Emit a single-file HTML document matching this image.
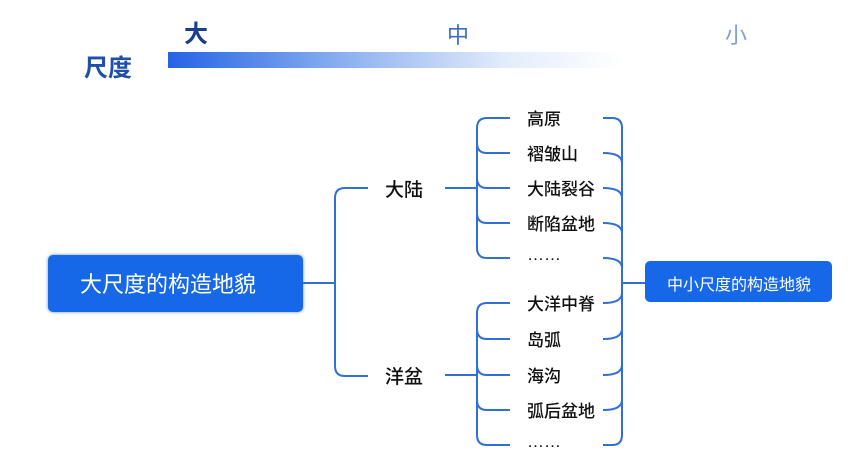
<!DOCTYPE html>
<html><head><meta charset="utf-8"><style>
body{margin:0;width:855px;height:475px;background:#fff;overflow:hidden;font-family:"Liberation Sans","Noto Sans CJK SC",sans-serif;position:relative}
.t{position:absolute;white-space:nowrap}
</style></head><body>
<div class="t" style="left:184px;top:14px;font-size:24px;font-weight:bold;color:#1a3d8f">大</div>
<div class="t" style="left:447px;top:18px;font-size:22px;color:#3b6cc9">中</div>
<div class="t" style="left:725px;top:18px;font-size:22px;color:#7f9fd6">小</div>
<div class="t" style="left:84px;top:48px;font-size:24px;font-weight:bold;color:#1f4fa8">尺度</div>
<div style="position:absolute;left:168px;top:52px;width:455px;height:16px;background:linear-gradient(90deg,#2563e6,#8fb3f0 40%,#e4edfb 75%,#fff)"></div>
<div style="position:absolute;left:48px;top:255px;width:255px;height:57px;background:#1768e8;border-radius:5px;box-shadow:0 0 3px #5b8fe8"></div>
<div class="t" style="left:80px;top:267px;font-size:22px;color:#fff">大尺度的构造地貌</div>
<div style="position:absolute;left:645px;top:261px;width:187px;height:41px;background:#1768e8;border-radius:5px"></div>
<div class="t" style="left:667px;top:271px;font-size:16px;color:#fff">中小尺度的构造地貌</div>
<svg width="855" height="475" style="position:absolute;left:0;top:0" fill="none" stroke="#2f6fd6" stroke-width="2">
<path d="M303 283H335M368 188H345Q335 188 335 198V366Q335 376 345 376H368"/>
<path d="M445 188H477M445 375H477"/>
<path d="M510 118H487Q477 118 477 128V248Q477 258 487 258H510M477 143Q477 153 487 153H510M477 178Q477 188 487 188H510M477 213Q477 223 487 223H510"/>
<path d="M510 303H487Q477 303 477 313V435Q477 445 487 445H510M477 329Q477 339 487 339H510M477 365Q477 375 487 375H510M477 400Q477 410 487 410H510"/>
<path d="M603 118H612Q622 118 622 128V435Q622 445 612 445H603M603 153Q622 153 622 163M603 188Q622 188 622 198M603 223Q622 223 622 233M603 258Q622 258 622 268M603 303Q622 303 622 293M603 339Q622 339 622 329M603 375Q622 375 622 365M603 410Q622 410 622 400M622 283H645"/>
</svg>
<div style="font-size:17px;color:#111;font-weight:500">
<div class="t" style="left:385px;top:175px;font-size:19px">大陆</div>
<div class="t" style="left:385px;top:362px;font-size:19px">洋盆</div>
<div class="t" style="left:527px;top:105px">高原</div>
<div class="t" style="left:527px;top:140px">褶皱山</div>
<div class="t" style="left:527px;top:175px">大陆裂谷</div>
<div class="t" style="left:527px;top:210px">断陷盆地</div>
<div class="t" style="left:527px;top:245px">……</div>
<div class="t" style="left:527px;top:290px">大洋中脊</div>
<div class="t" style="left:527px;top:326px">岛弧</div>
<div class="t" style="left:527px;top:362px">海沟</div>
<div class="t" style="left:527px;top:397px">弧后盆地</div>
<div class="t" style="left:527px;top:432px">……</div>
</div>
</body></html>
